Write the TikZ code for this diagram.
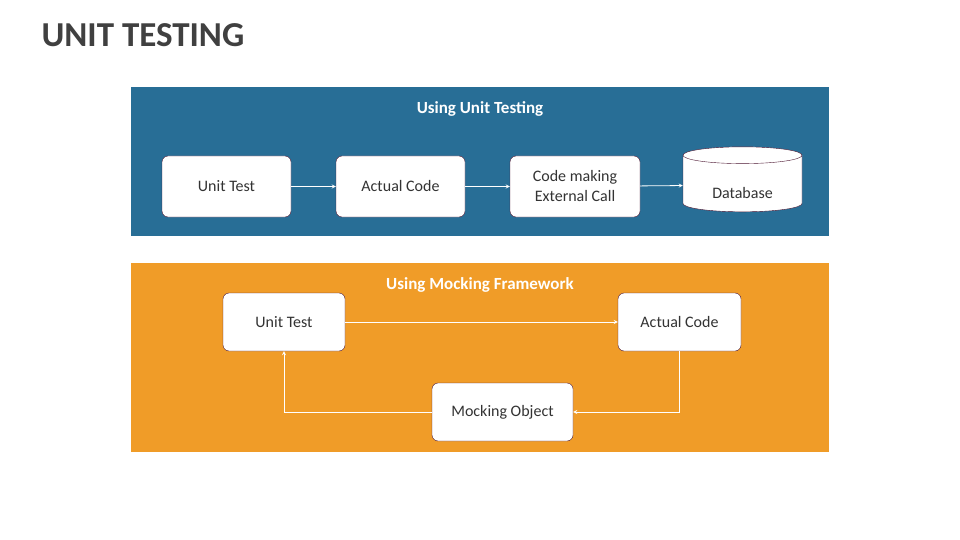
\documentclass[tikz,border=0pt]{standalone}
\usepackage{fontspec}
\setmainfont{Carlito}
\usetikzlibrary{shapes.geometric}
\definecolor{panelblue}{HTML}{286E96}
\definecolor{panelorange}{HTML}{F09C28}
\definecolor{boxedge}{HTML}{4A1530}
\definecolor{titlegray}{HTML}{404040}
\begin{document}
\begin{tikzpicture}[
        x=1pt, y=-1pt,
        panel/.style={inner sep=0pt, anchor=north west},
        process/.style={rectangle, draw=boxedge, fill=white, rounded corners=6pt, text centered, align=center, font=\fontsize{16}{20}\selectfont, text=black!80},
        store/.style={cylinder, shape border rotate=90, aspect=0.25, draw=boxedge, fill=white, minimum width=119pt, minimum height=65pt, font=\fontsize{16}{20}\selectfont},
        flow/.style={->, >=stealth, white, thick},
        heading/.style={font=\bfseries\fontsize{17}{20}\selectfont, text=white}
    ]
        \useasboundingbox (0,0) rectangle (960,540);

        \node[anchor=west, font=\bfseries\fontsize{35}{40}\selectfont, text=titlegray] (title) at (38,35) {UNIT TESTING};

        % Using Unit Testing
        \node[panel, fill=panelblue, minimum width=698pt, minimum height=149pt] (blue_panel) at (131,87) {};
        \node[heading] (blue_title) at (480,109) {Using Unit Testing};
        \node[process, minimum width=129pt, minimum height=61pt] (unit_test) at (226.5,186.5) {Unit Test};
        \node[process, minimum width=129pt, minimum height=61pt] (actual_code) at (400.5,186.5) {Actual Code};
        \node[process, minimum width=130pt, minimum height=61pt] (external_call) at (575,186.5) {Code making\\External Call};
        \node[store, label={[font=\fontsize{16}{20}\selectfont, text=black!80, yshift=-8pt]center:Database}] (database) at (742.5,185) {\phantom{Database}};
        \draw[flow] (unit_test) -- (actual_code);
        \draw[flow] (actual_code) -- (external_call);
        \draw[flow] (external_call) -- (database);

        % Using Mocking Framework
        \node[panel, fill=panelorange, minimum width=698pt, minimum height=189pt] (orange_panel) at (131,263) {};
        \node[heading] (orange_title) at (480,285) {Using Mocking Framework};
        \node[process, minimum width=122pt, minimum height=58pt] (mock_test) at (284,322) {Unit Test};
        \node[process, minimum width=123pt, minimum height=58pt] (mock_code) at (679.5,322) {Actual Code};
        \node[process, minimum width=141pt, minimum height=58pt] (mock_object) at (502.5,412) {Mocking Object};
        \draw[flow] (mock_test) -- (mock_code);
        \draw[flow] (mock_code) |- (mock_object);
        \draw[flow] (mock_object) -| (mock_test);

    \end{tikzpicture}
\end{document}
